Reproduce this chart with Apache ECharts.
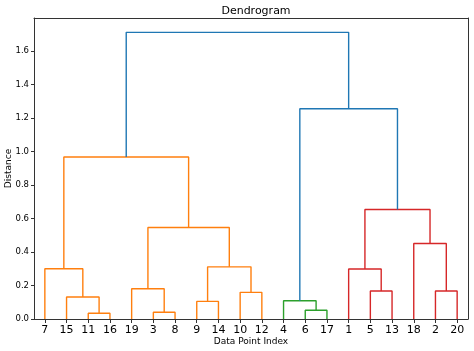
<!DOCTYPE html>
<html>
<head>
<meta charset="utf-8">
<script src="https://cdn.jsdelivr.net/npm/echarts@6/dist/echarts.min.js"></script>
<style>
  html, body { margin: 0; padding: 0; background: #fff; }
  #chart { width: 474px; height: 351px; }
</style>
</head>
<body>
<div id="chart"></div>
<script>
// leaves in dendrogram order
const leafLabels = ['7', '15', '11', '16', '19', '3', '8', '9', '14', '10', '12', '4', '6', '17', '1', '5', '13', '18', '2', '20'];

// merges: child < 20 is a leaf position, child >= 20 is merge (child - 20)
const mergePairs = [
  [2, 3], [1, 20], [0, 21], [5, 6], [4, 23], [7, 8], [9, 10], [25, 26], [24, 27], [22, 28],
  [12, 13], [11, 30], [15, 16], [14, 32], [18, 19], [17, 34], [33, 35], [31, 36], [29, 37]
];
const mergeHeights = [
  0.034, 0.131, 0.300, 0.040, 0.180, 0.105, 0.159, 0.311, 0.546, 0.966,
  0.052, 0.109, 0.167, 0.298, 0.167, 0.450, 0.653, 1.254, 1.710
];
const mergeGroups = [
  'C1', 'C1', 'C1', 'C1', 'C1', 'C1', 'C1', 'C1', 'C1', 'C1',
  'C2', 'C2', 'C3', 'C3', 'C3', 'C3', 'C3', 'C0', 'C0'
];
const yTicks = [0, 0.2, 0.4, 0.6, 0.8, 1.0, 1.2, 1.4, 1.6];

const colors = { C0: '#1f77b4', C1: '#ff7f0e', C2: '#2ca02c', C3: '#d62728' };

const nLeaf = leafLabels.length;
const nodeX = [];
const nodeY = [];
for (let i = 0; i < nLeaf; i++) { nodeX.push(10 * i + 5); nodeY.push(0); }

const series = [];
mergePairs.forEach(function (p, i) {
  const a = p[0], b = p[1];
  const h = mergeHeights[i];
  series.push({
    type: 'line',
    xAxisIndex: 1,
    yAxisIndex: 0,
    data: [[nodeX[a], nodeY[a]], [nodeX[a], h], [nodeX[b], h], [nodeX[b], nodeY[b]]],
    showSymbol: false,
    symbol: 'none',
    silent: true,
    lineStyle: { color: colors[mergeGroups[i]], width: 1.4 },
    z: 3
  });
  nodeX.push((nodeX[a] + nodeX[b]) / 2);
  nodeY.push(h);
});

const yMax = mergeHeights[mergeHeights.length - 1] * 1.05;
const axisColor = '#333';
const font = 'DejaVu Sans';

const chart = echarts.init(document.getElementById('chart'));
chart.setOption({
  animation: false,
  backgroundColor: '#fff',
  title: {
    text: 'Dendrogram',
    left: 251,
    textAlign: 'center',
    top: 1,
    textStyle: { fontFamily: font, fontSize: 11, fontWeight: 'normal', color: '#000' }
  },
  grid: { left: 34, right: 6, top: 18, bottom: 32, containLabel: false, outerBoundsMode: 'none' },
  xAxis: [
    {
      type: 'category',
      data: leafLabels,
      boundaryGap: true,
      position: 'bottom',
      name: 'Data Point Index',
      nameLocation: 'middle',
      nameGap: 18,
      nameMoveOverlap: false,
      nameTextStyle: { fontFamily: font, fontSize: 9, color: '#000' },
      axisLine: { show: true, lineStyle: { color: axisColor, width: 1 } },
      axisTick: { show: true, alignWithLabel: true, length: 4, lineStyle: { color: axisColor } },
      axisLabel: { fontFamily: font, fontSize: 11, color: '#000', margin: 6, interval: 0 },
      splitLine: { show: false }
    },
    {
      type: 'value',
      min: 0,
      max: 200,
      position: 'top',
      axisLine: { show: true, onZero: false, lineStyle: { color: axisColor, width: 1 } },
      axisTick: { show: false },
      axisLabel: { show: false },
      splitLine: { show: false }
    }
  ],
  yAxis: [
    {
      type: 'value',
      min: 0,
      max: yMax,
      interval: 0.2,
      name: 'Distance',
      nameLocation: 'middle',
      nameGap: 21,
      nameRotate: 90,
      nameMoveOverlap: false,
      nameTextStyle: { fontFamily: font, fontSize: 9, color: '#000' },
      axisLine: { show: true, lineStyle: { color: axisColor, width: 1 } },
      axisTick: { show: true, length: 3, lineStyle: { color: axisColor } },
      axisLabel: {
        fontFamily: font, fontSize: 8.5, color: '#000', margin: 5,
        showMaxLabel: false,
        formatter: function (v) {
          const hit = yTicks.some(function (t) { return Math.abs(t - v) < 1e-6; });
          return hit ? v.toFixed(1) : '';
        }
      },
      splitLine: { show: false }
    },
    {
      type: 'value',
      min: 0,
      max: yMax,
      position: 'right',
      axisLine: { show: true, lineStyle: { color: axisColor, width: 1 } },
      axisTick: { show: false },
      axisLabel: { show: false },
      splitLine: { show: false }
    }
  ],
  series: series
});
</script>
</body>
</html>
